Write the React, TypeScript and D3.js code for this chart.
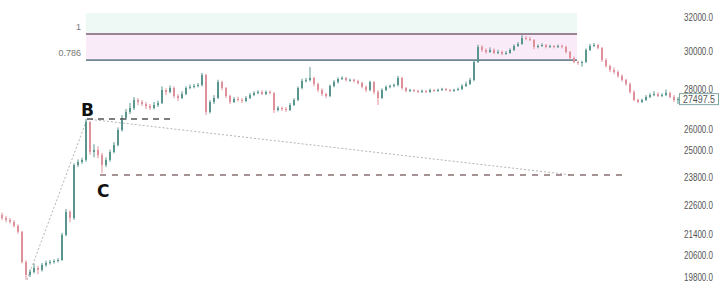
import React from "react";
import * as d3 from "d3";

const W = 720;
const H = 284;

const firstOpen = 22200;
const closes = [
  22080, 22000, 21919, 21758, 21520, 20357, 19875, 19987, 20134, 20061,
  20246, 20320, 20357, 20394, 20432, 21400, 22327, 22080, 24349, 24485,
  24576, 26362, 24942, 25034, 24800, 24349, 24576, 24942, 25266, 25975,
  26557, 26851, 27050, 27453, 27352, 27251, 27150, 27050, 27200, 27301,
  27966, 27863, 28069, 27658, 27556, 27760, 28069, 28121, 28173, 28225,
  28752, 26851, 27352, 27556, 28382, 28069, 27658, 27352, 27505, 27453,
  27402, 27556, 27709, 27811, 27863, 27760, 27863, 27811, 26950, 27050,
  27000, 26950, 27200, 27453, 28069, 28434, 28487, 28593, 28277, 27966,
  27760, 27658, 28173, 28382, 28540, 28593, 28487, 28500, 28434, 28330,
  28121, 27966, 28382, 27863, 27556, 27966, 28121, 28173, 28225, 28593,
  28069, 27914, 27966, 27914, 27863, 27914, 27863, 27966, 27914, 27966,
  28017, 27966, 27914, 27966, 28017, 28173, 28277, 28487, 29449, 30276,
  30109, 29998, 30109, 29943, 29998, 29888, 29943, 30109, 30332, 30444,
  30783, 30726, 30670, 30276, 30332, 30388, 30276, 30332, 30276, 30332,
  30276, 29998, 29668, 29449, 29395, 29449, 30109, 30332, 30388, 30220,
  29558, 29233, 29018, 28911, 28699, 28487, 28277, 27863, 27453, 27352,
  27453, 27607, 27709, 27760, 27658, 27709, 27811, 27607, 27453, 27497.5,
];
const highs = [
  22300, 22160, 22080, 21990, 21820, 21560, 20420, 20080, 20300, 20200,
  20320, 20400, 20430, 20460, 20500, 21480, 22450, 22400, 24420, 24600,
  24680, 26508, 26400, 25300, 25200, 24900, 24700, 25050, 25400, 26100,
  26700, 27000, 27300, 27600, 27550, 27450, 27350, 27250, 27350, 27420,
  28150, 28050, 28200, 28150, 27750, 27900, 28150, 28250, 28280, 28330,
  28860, 28800, 27450, 27700, 28500, 28450, 28120, 27720, 27600, 27620,
  27550, 27650, 27800, 27900, 27950, 27950, 27940, 27950, 27850, 27150,
  27120, 27100, 27300, 27550, 28150, 28550, 28600, 29180, 28650, 28350,
  28050, 27820, 28250, 28480, 28620, 28680, 28650, 28560, 28550, 28500,
  28400, 28200, 28450, 28420, 27950, 28050, 28200, 28250, 28300, 28700,
  28650, 28120, 28030, 28020, 27980, 27990, 27970, 28030, 28010, 28040,
  28080, 28070, 28020, 28030, 28090, 28260, 28400, 28600, 29550, 30400,
  30380, 30200, 30250, 30200, 30120, 30080, 30050, 30200, 30420, 30550,
  30950, 30900, 30850, 30720, 30420, 30480, 30440, 30400, 30390, 30410,
  30420, 30350, 30050, 29750, 29520, 29520, 30200, 30450, 30500, 30450,
  30280, 29650, 29300, 29150, 29000, 28780, 28550, 28350, 27950, 27520,
  27520, 27700, 27800, 27900, 27850, 27800, 27990, 27880, 27700, 27600,
];
const lows = [
  22000, 21900, 21850, 21700, 21440, 20300, 19700, 19800, 19930, 19900,
  20000, 20180, 20260, 20300, 20340, 20400, 21350, 21900, 22000, 24250,
  24400, 24500, 24800, 24700, 24650, 23990, 24250, 24500, 24880, 25200,
  25900, 26450, 26750, 26950, 27200, 27150, 27000, 26950, 26980, 27100,
  27250, 27700, 27800, 27550, 27400, 27500, 27700, 28000, 28050, 28100,
  28150, 26700, 26780, 27250, 27500, 27950, 27550, 27250, 27300, 27380,
  27300, 27350, 27500, 27650, 27750, 27700, 27700, 27750, 26800, 26880,
  26900, 26850, 26900, 27150, 27400, 28000, 28350, 28400, 28150, 27850,
  27650, 27550, 27600, 28100, 28300, 28480, 28400, 28400, 28350, 28250,
  28050, 27850, 27900, 27750, 27200, 27500, 27900, 28050, 28100, 28150,
  27980, 27850, 27860, 27850, 27800, 27810, 27800, 27820, 27860, 27870,
  27910, 27910, 27850, 27870, 27920, 27960, 28120, 28220, 28420, 29400,
  30000, 29900, 29950, 29880, 29880, 29820, 29840, 29900, 30050, 30280,
  30400, 30650, 30600, 30150, 30200, 30280, 30200, 30220, 30200, 30220,
  30200, 29920, 29600, 29380, 29300, 29200, 29400, 30050, 30280, 30150,
  29450, 29150, 28900, 28800, 28600, 28400, 28180, 27780, 27400, 27300,
  27300, 27400, 27550, 27650, 27600, 27600, 27650, 27550, 27350, 27250,
];

const tickValues = [32000, 30000, 28000, 26000, 25000, 23800, 22600, 21400, 20600, 19800];
const lastPrice = 27497.5;

// Fibonacci zone: [label, price]
const fibLabels = ["", "1", "0.786"];
const fibPrices = [32240, 31010, 29550];
const fibStartIdx = 21;
const fibEndIdx = 143.75;

// Pattern points (index, price)
const pointA = [6.25, 19693];
const pointB = [21.25, 26508];
const pointEnd = [142.5, 23904];
const bLevel = { price: 26508, from: 21.25, to: 43.25 };
const cLevel = { price: 23904, from: 24.5, to: 156.5 };

const UP = "#58968f";
const DOWN = "#de919b";

export default function App() {
  const x = d3.scaleLinear().domain([0, closes.length - 1]).range([2, 678]);
  const y = d3.scaleLog().domain([19800, 32000]).range([277, 17]);
  const fmt = d3.format(".1f");

  const candles = closes.map((c, i) => {
    const o = i === 0 ? firstOpen : closes[i - 1];
    return { i, o, c, h: highs[i], l: lows[i] };
  });

  const dotted = d3.line<number[]>().x((d) => x(d[0])).y((d) => y(d[1]));

  return (
    <div style={{ position: "fixed", left: 0, top: 0, width: W, height: H, background: "#fff" }}>
      <svg width={W} height={H} style={{ display: "block" }}>
        <rect width={W} height={H} fill="#ffffff" />
        {/* Fib zones */}
        <rect
          x={x(fibStartIdx)}
          y={y(fibPrices[0])}
          width={x(fibEndIdx) - x(fibStartIdx)}
          height={y(fibPrices[1]) - y(fibPrices[0])}
          fill="#eef8f5"
        />
        <rect
          x={x(fibStartIdx)}
          y={y(fibPrices[1])}
          width={x(fibEndIdx) - x(fibStartIdx)}
          height={y(fibPrices[2]) - y(fibPrices[1])}
          fill="#f9ebf8"
        />
        <line x1={x(fibStartIdx)} x2={x(fibEndIdx)} y1={y(fibPrices[1])} y2={y(fibPrices[1])} stroke="#7d5f72" strokeWidth={1.6} />
        <line x1={x(fibStartIdx)} x2={x(fibEndIdx)} y1={y(fibPrices[2])} y2={y(fibPrices[2])} stroke="#6d8691" strokeWidth={1.6} />
        {fibLabels.map((lab, k) =>
          lab ? (
            <text key={k} x={x(fibStartIdx) - 5} y={y(fibPrices[k]) - 4} textAnchor="end" fontFamily="Liberation Sans, Arial, sans-serif" fontSize={9} fill="#777">
              {lab}
            </text>
          ) : null
        )}

        {/* Dotted pattern lines */}
        <path d={dotted([pointA, pointB]) || ""} fill="none" stroke="#aaa" strokeWidth={0.9} strokeDasharray="2,2" />
        <path d={dotted([pointB, pointEnd]) || ""} fill="none" stroke="#aaa" strokeWidth={0.9} strokeDasharray="2,2" />

        {/* Candles */}
        {candles.map((d) => {
          const col = d.c >= d.o ? UP : DOWN;
          const cx = x(d.i);
          const top = y(Math.max(d.o, d.c));
          const bot = y(Math.min(d.o, d.c));
          return (
            <g key={d.i}>
              <line x1={cx} x2={cx} y1={y(d.h)} y2={y(d.l)} stroke={col} strokeWidth={1} />
              <rect x={cx - 1} y={top} width={2} height={Math.max(1, bot - top)} fill={col} />
            </g>
          );
        })}

        {/* Dashed levels */}
        <line x1={x(bLevel.from)} x2={x(bLevel.to)} y1={y(bLevel.price)} y2={y(bLevel.price)} stroke="#555" strokeWidth={1.4} strokeDasharray="6,5" />
        <line x1={x(cLevel.from)} x2={x(cLevel.to)} y1={y(cLevel.price)} y2={y(cLevel.price)} stroke="#8a6f72" strokeWidth={1.4} strokeDasharray="6,6" />

        {/* Labels B and C */}
        <text x={81} y={116} fontFamily="DejaVu Sans, sans-serif" fontWeight="bold" fontSize={17} fill="#111">B</text>
        <text x={97} y={197} fontFamily="DejaVu Sans, sans-serif" fontWeight="bold" fontSize={17} fill="#111">C</text>

        {/* Price axis */}
        {tickValues.map((t) => (
          <text key={t} x={684} y={y(t) + 3.5} fontFamily="Liberation Sans, Arial, sans-serif" fontSize={10} fill="#555" textLength={29} lengthAdjust="spacingAndGlyphs">
            {fmt(t)}
          </text>
        ))}
        <rect x={679.5} y={y(lastPrice) - 5.5} width={39} height={11} fill="#fff" stroke="#7fa5a0" strokeWidth={1} />
        <text x={683} y={y(lastPrice) + 3.5} fontFamily="Liberation Sans, Arial, sans-serif" fontSize={10} fill="#555" textLength={32} lengthAdjust="spacingAndGlyphs">
          {fmt(lastPrice)}
        </text>
      </svg>
    </div>
  );
}
